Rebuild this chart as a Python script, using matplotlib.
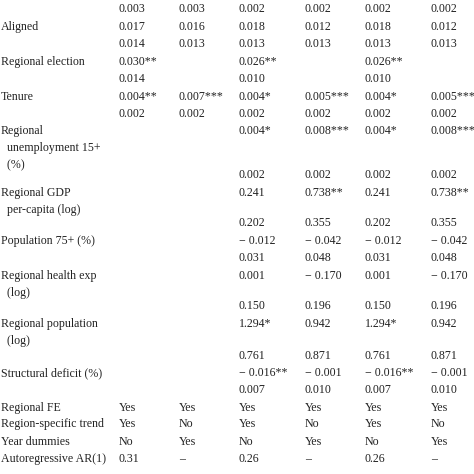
import matplotlib
matplotlib.use("Agg")
import matplotlib.pyplot as plt

row_labels = ["", "Aligned", "", "Regional election", "", "Tenure", "",
              "Regional\n  unemployment 15+\n  (%)", "", "Regional GDP\n  per-capita (log)", "",
              "Population 75+ (%)", "", "Regional health exp\n  (log)", "",
              "Regional population\n  (log)", "", "Structural deficit (%)", "",
              "Regional FE", "Region-specific trend", "Year dummies", "Autoregressive AR(1)"]
row_y = [9, 27, 44, 62, 79, 97, 114, 131, 175, 193, 223, 241, 258, 276, 306, 324, 356, 373, 390, 408, 424, 442, 459]

col1 = ["0.003", "0.017", "0.014", "0.030**", "0.014", "0.004**", "0.002", "", "", "", "", "", "", "", "", "", "", "", "", "Yes", "Yes", "No", "0.31"]
col2 = ["0.003", "0.016", "0.013", "", "", "0.007***", "0.002", "", "", "", "", "", "", "", "", "", "", "", "", "Yes", "No", "Yes", "–"]
col3 = ["0.002", "0.018", "0.013", "0.026**", "0.010", "0.004*", "0.002", "0.004*", "0.002", "0.241", "0.202", "− 0.012", "0.031", "0.001", "0.150", "1.294*", "0.761", "− 0.016**", "0.007", "Yes", "Yes", "No", "0.26"]
col4 = ["0.002", "0.012", "0.013", "", "", "0.005***", "0.002", "0.008***", "0.002", "0.738**", "0.355", "− 0.042", "0.048", "− 0.170", "0.196", "0.942", "0.871", "− 0.001", "0.010", "Yes", "No", "Yes", "–"]
col5 = ["0.002", "0.018", "0.013", "0.026**", "0.010", "0.004*", "0.002", "0.004*", "0.002", "0.241", "0.202", "− 0.012", "0.031", "0.001", "0.150", "1.294*", "0.761", "− 0.016**", "0.007", "Yes", "Yes", "No", "0.26"]
col6 = ["0.002", "0.012", "0.013", "", "", "0.005***", "0.002", "0.008***", "0.002", "0.738**", "0.355", "− 0.042", "0.048", "− 0.170", "0.196", "0.942", "0.871", "− 0.001", "0.010", "Yes", "No", "Yes", "–"]

cols = [col1, col2, col3, col4, col5, col6]
col_x = [119, 179, 239, 305, 365, 431]

fig = plt.figure(figsize=(4.74, 4.74), dpi=100)
ax = fig.add_axes([0, 0, 1, 1])
ax.set_xlim(0, 474)
ax.set_ylim(474, 0)
ax.axis("off")
fs = 8.6
fam = "Liberation Serif"
c = "#222222"
for lab, y in zip(row_labels, row_y):
    ax.text(1, y, lab, ha="left", va="top" if "\n" in lab else "center",
            fontsize=fs, family=fam, color=c, linespacing=1.55,
            transform=ax.transData) if "\n" in lab else \
        ax.text(1, y, lab, ha="left", va="center", fontsize=fs, family=fam, color=c)
for x, col in zip(col_x, cols):
    for v, y in zip(col, row_y):
        ax.text(x, y, v, ha="left", va="center", fontsize=fs, family=fam, color=c)
# adjust multiline labels to start at row center
for t in ax.texts:
    if "\n" in t.get_text():
        t.set_y(t.get_position()[1] - 6)
fig.savefig("out.png", dpi=100)
